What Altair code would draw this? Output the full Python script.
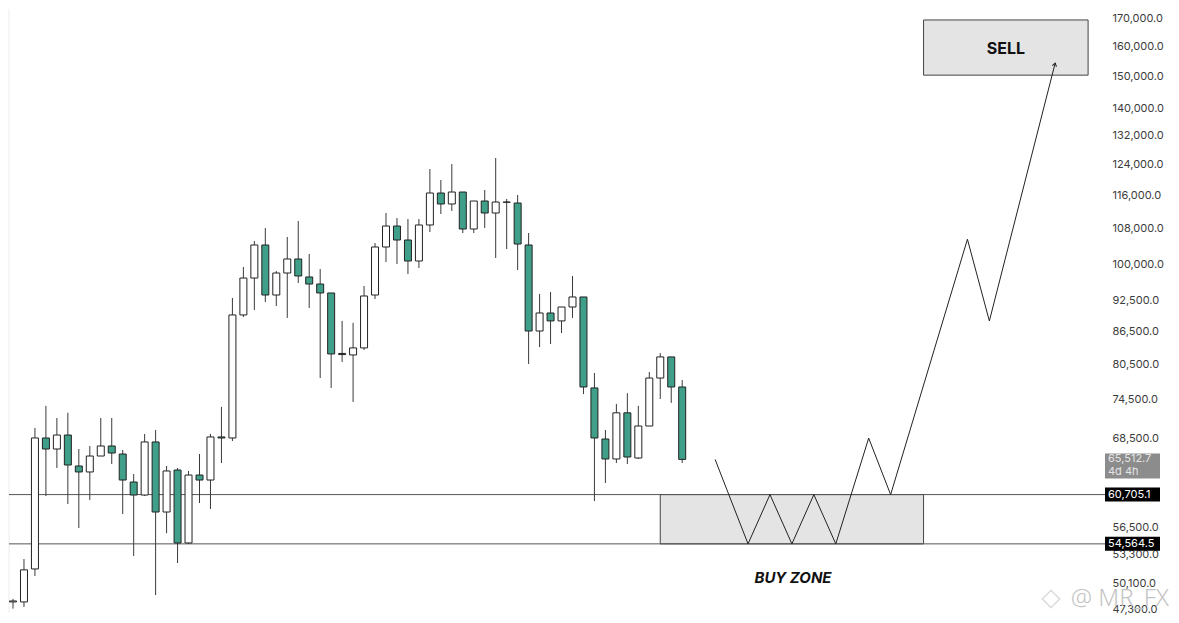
import altair as alt
import pandas as pd

# candle OHLC (one bar per candle, oldest first)
opens = [48120, 48120, 51680, 68620, 67000, 69060, 64580, 63750, 65990, 67440,
         66280, 62380, 60650, 68030, 58460, 64020, 54670, 63330, 62650, 68770,
         68620, 89560, 97010, 104200, 93510, 98070, 101090, 97230, 95760, 93920,
         82400, 82130, 83390, 93510, 103750, 108570, 105330, 100650, 108810, 116610,
         113870, 116860, 107870, 114610, 111670, 114360, 114110, 104200, 86500, 89940,
         88410, 91110, 93110, 76470, 68470, 65570, 72460, 65710, 70420, 78130,
         81780, 76630]
highs = [48440, 52800, 70130, 73560, 71650, 72460, 67000, 67440, 71650, 71650,
         66860, 63470, 69220, 69820, 64580, 64300, 63890, 66280, 69220, 73400,
         92910, 99350, 105100, 108100, 98490, 106020, 109760, 102190, 98920, 93920,
         88410, 88040, 95350, 104650, 111670, 110470, 110230, 110230, 122830, 119940,
         124170, 116860, 114610, 117370, 125790, 115110, 116110, 106940, 93720, 94120,
         91110, 97440, 93110, 78990, 69820, 73870, 75610, 73560, 79160, 82470,
         81780, 77800]
lows = [47430, 47600, 50900, 60520, 64300, 59480, 56470, 59990, 65990, 64860,
        58200, 53150, 60520, 48840, 55840, 52350, 54550, 59610, 58840, 65000,
        68170, 89170, 90520, 92100, 91310, 88980, 95970, 90920, 78130, 76470,
        80900, 74180, 83010, 92710, 100430, 100000, 97860, 99140, 107170, 111430,
        112160, 106940, 106940, 108100, 101310, 103300, 98710, 80540, 83550, 84110,
        86120, 88980, 75460, 59860, 62250, 65000, 64860, 65570, 70420, 74660,
        74030, 65000]
closes = [48220, 51580, 68620, 67000, 69060, 64720, 63750, 65990, 67440, 66420,
          62650, 60650, 68030, 58460, 63890, 54670, 63330, 62650, 68770, 68620,
          89560, 97010, 104200, 93510, 98070, 101090, 97440, 95760, 93920, 82310,
          82200, 83390, 93310, 103750, 108570, 105330, 100650, 108810, 116610, 113870,
          116860, 107870, 114610, 111670, 114360, 114300, 104420, 86500, 89940, 88410,
          91110, 93110, 76630, 68620, 65570, 72460, 65850, 70420, 78130, 81780,
          76630, 65513]

# projected path (bar index, price)
path_bar = [64, 67, 69, 71, 73, 75, 78, 80, 87, 89, 95]
path_price = [65500, 54564.5, 60705.1, 54564.5, 60705.1, 54564.5, 68600,
              60705.1, 105500, 88400, 154500]

zone_top = 60705.1
zone_bottom = 54564.5
last_price = 65512.7

price_ticks = [170000, 160000, 150000, 140000, 132000, 124000, 116000, 108000,
               100000, 92500, 86500, 80500, 74500, 68500, 56500, 53300, 50100, 47300]

W, H = 1096, 604
TEAL = "#3f9f89"

candles = pd.DataFrame({
    "bar": list(range(len(opens))),
    "open": opens, "high": highs, "low": lows, "close": closes,
})
candles["dir"] = ["up" if c >= o else "down" for o, c in zip(opens, closes)]

path = pd.DataFrame({"step": list(range(len(path_bar))), "bar": path_bar, "price": path_price})

x_scale = alt.Scale(domain=[-0.365, 99.54], nice=False, zero=False, padding=0)
y_scale = alt.Scale(type="log", domain=[46980, 173670], nice=False)

X = lambda f: alt.X(f, type="quantitative", scale=x_scale, axis=None)
Y = lambda f: alt.Y(f, type="quantitative", scale=y_scale, title=None)

wicks = alt.Chart(candles).mark_rule(color="#3a3a3a", strokeWidth=1).encode(
    x=X("bar"), y=Y("low"), y2="high"
)

bodies = alt.Chart(candles).mark_bar(size=7, stroke="#222222", strokeWidth=1).encode(
    x=X("bar"),
    y=alt.Y("open:Q", scale=y_scale, title=None,
            axis=alt.Axis(orient="right", values=price_ticks, format=",.1f",
                          grid=False, domain=False, ticks=False, tickSize=0,
                          labelPadding=7, labelColor="#3c3c3c", labelFontSize=11,
                          labelFont="Inter", labelOverlap=False, labelFlush=False)),
    y2="close",
    color=alt.Color("dir:N", scale=alt.Scale(domain=["up", "down"], range=["#ffffff", TEAL]),
                    legend=None),
)

zones = pd.DataFrame({
    "x1": [59, 83], "x2": [83, 98],
    "p1": [zone_bottom, 150500], "p2": [zone_top, 169600],
})
boxes = alt.Chart(zones).mark_rect(fill="#e4e4e4", stroke="#444444", strokeWidth=1).encode(
    x=X("x1"), x2="x2", y=Y("p1"), y2="p2"
)

levels = pd.DataFrame({"price": [zone_top, zone_bottom]})
level_lines = alt.Chart(levels).mark_rule(color="#555555", strokeWidth=1).encode(y=Y("price"))

projection = alt.Chart(path).mark_line(color="#222222", strokeWidth=1).encode(
    x=X("bar"), y=Y("price"), order="step:Q"
)
arrow = alt.Chart(path.tail(1)).mark_point(
    shape="M -0.45 0.7 L 0 0 L 0.45 0.7", angle=14, size=90, filled=False,
    stroke="#222222", strokeWidth=1, opacity=1
).encode(x=X("bar"), y=Y("price"))

labels = pd.DataFrame({"bar": [90.5, 71.1], "price": [159300, 50700], "txt": ["SELL", "BUY ZONE"]})
sell_text = alt.Chart(labels.head(1)).mark_text(
    font="Inter", fontWeight="bold", fontSize=16, color="#111111"
).encode(x=X("bar"), y=Y("price"), text="txt:N")
buy_text = alt.Chart(labels.tail(1)).mark_text(
    font="Inter", fontWeight="bold", fontStyle="italic", fontSize=15, color="#111111"
).encode(x=X("bar"), y=Y("price"), text="txt:N")

# price tags in the axis strip
tags = pd.DataFrame({"price": [zone_top, zone_bottom], "txt": ["60,705.1", "54,564.5"]})
tag_boxes = alt.Chart(tags).mark_rect(color="#000000", yOffset=-7, y2Offset=7).encode(
    x=alt.value(W), x2=alt.value(W + 55), y=Y("price"), y2="price"
)
tag_text = alt.Chart(tags).mark_text(align="left", color="#ffffff", fontSize=11, font="Inter").encode(
    x=alt.value(W + 3), y=Y("price"), text="txt:N"
)
last = pd.DataFrame({"price": [last_price], "txt": ["65,512.7"], "sub": ["4d 4h"]})
last_box = alt.Chart(last).mark_rect(color="#8c8c8c", yOffset=-6, y2Offset=19).encode(
    x=alt.value(W), x2=alt.value(W + 55), y=Y("price"), y2="price"
)
last_text = alt.Chart(last).mark_text(align="left", color="#e4e4e4", fontSize=11, font="Inter").encode(
    x=alt.value(W + 3), y=Y("price"), text="txt:N"
)
last_sub = alt.Chart(last).mark_text(align="left", color="#e4e4e4", fontSize=11, font="Inter",
                                     dy=13).encode(
    x=alt.value(W + 3), y=Y("price"), text="sub:N"
)

left_edge = alt.Chart(levels.head(1)).mark_rule(color="#ececec").encode(
    x=alt.value(0), y=alt.value(0), y2=alt.value(H)
)
mark_logo = alt.Chart(levels.head(1)).mark_point(
    shape="diamond", size=300, filled=False, stroke="#cccccc", strokeWidth=1.5
).encode(x=alt.value(1042), y=alt.value(590))
watermark = alt.Chart(pd.DataFrame({"t": ["@ MR_FX"]})).mark_text(
    align="right", baseline="middle", fontSize=24, font="Noto Sans", fontWeight=300, color="#c4c4c4"
).encode(x=alt.value(1160), y=alt.value(590), text="t:N")

chart = alt.layer(
    left_edge, boxes, level_lines, wicks, bodies, projection, arrow,
    sell_text, buy_text, tag_boxes, tag_text, last_box, last_text, last_sub,
    mark_logo, watermark,
).properties(
    width=W, height=H, padding={"left": 0, "top": 0, "right": 0, "bottom": 0},
    background="#ffffff",
).configure_view(stroke=None)

chart.save("out.html", embed_options={"renderer": "svg", "actions": False})
